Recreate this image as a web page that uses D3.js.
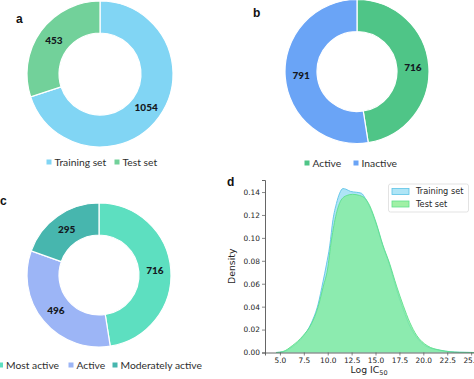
<!DOCTYPE html>
<html>
<head>
<meta charset="utf-8">
<script src="https://cdn.jsdelivr.net/npm/d3@7"></script>
<style>
  body { margin: 0; background: #fff; }
  svg { display: block; }
</style>
</head>
<body>
<div id="chart"></div>
<script>
// panel a
var setLabels = ["Training set", "Test set"];
var setCounts = [1054, 453];
// panel b
var activityLabels = ["Active", "Inactive"];
var activityCounts = [716, 791];
// panel c
var classLabels = ["Most active", "Active", "Moderately active"];
var classCounts = [716, 496, 295];
// panel d: KDE of Log IC50
var trainX = [4.6, 5.34, 6.39, 7.43, 8.3, 8.99, 9.51, 9.86, 10.21, 10.55, 10.91, 11.25, 11.59, 11.9, 12.4, 13.0, 13.51, 13.96, 14.38, 15.07, 15.76, 16.46, 17.16, 17.84, 18.54, 19.24, 20.28, 21.67, 23.75, 25.3];
var trainY = [0, 0.0006, 0.0055, 0.014, 0.026, 0.042, 0.062, 0.0765, 0.093, 0.116, 0.130, 0.139, 0.143, 0.1425, 0.1405, 0.1398, 0.139, 0.134, 0.127, 0.112, 0.093, 0.0765, 0.056, 0.039, 0.024, 0.014, 0.0055, 0.002, 0.0002, 0];
var testX = [4.6, 5.3, 6.3, 7.4, 8.3, 9.0, 9.55, 9.97, 10.39, 10.9, 11.4, 12.0, 12.6, 13.33, 13.96, 14.4, 15.07, 15.76, 16.46, 17.2, 17.9, 18.6, 19.3, 20.4, 21.8, 23.8, 25.3];
var testY = [0, 0.0008, 0.006, 0.0145, 0.025, 0.040, 0.058, 0.072, 0.098, 0.121, 0.133, 0.137, 0.138, 0.137, 0.134, 0.128, 0.113, 0.094, 0.078, 0.058, 0.041, 0.026, 0.015, 0.006, 0.002, 0.0002, 0];
var xTicks = [5.0, 7.5, 10.0, 12.5, 15.0, 17.5, 20.0, 22.5, 25.0];
var yTicks = [0, 0.02, 0.04, 0.06, 0.08, 0.10, 0.12, 0.14];
var kdeLabels = ["Training set", "Test set"];

function init() {
    var w = 474, h = 379;
    var svg = d3.select("#chart").append("svg")
        .attr("width", w)
        .attr("height", h);

    var donutFont = "Lato, 'Open Sans', sans-serif";

    function donut(cx, cy, rOut, rIn, labels, counts, colors, legendY, legendItems) {
        var pie = d3.pie().sort(null).value(function(d) { return d; });
        var arc = d3.arc().innerRadius(rIn).outerRadius(rOut);
        var mid = d3.arc().innerRadius((rIn + rOut) / 2).outerRadius((rIn + rOut) / 2);
        var g = svg.append("g").attr("transform", "translate(" + cx + "," + cy + ")");
        var arcs = pie(counts);
        g.selectAll("path")
            .data(arcs)
            .enter()
            .append("path")
            .attr("d", arc)
            .attr("fill", function(d, i) { return colors[i]; })
            .attr("stroke", "#fff")
            .attr("stroke-width", 1.2);
        g.selectAll("text")
            .data(arcs)
            .enter()
            .append("text")
            .attr("x", function(d) { return mid.centroid(d)[0]; })
            .attr("y", function(d) { return mid.centroid(d)[1]; })
            .attr("dy", "0.35em")
            .attr("text-anchor", "middle")
            .style("font-family", donutFont)
            .style("font-weight", "900")
            .style("font-size", "10px")
            .attr("fill", "#141821")
            .text(function(d) { return d.data; });

        // legend: square + text, x positions given per item
        var lg = svg.append("g");
        legendItems.forEach(function(x0, i) {
            lg.append("rect")
                .attr("x", x0)
                .attr("y", legendY - 2.5)
                .attr("width", 5)
                .attr("height", 5)
                .attr("fill", colors[i]);
            lg.append("text")
                .attr("x", x0 + 8)
                .attr("y", legendY)
                .attr("dy", "0.35em")
                .style("font-family", donutFont)
                .style("font-size", "10.3px")
                .attr("fill", "#2e2e2e")
                .text(labels[i]);
        });
    }

    donut(100, 74, 73, 41, setLabels, setCounts, ["#81d5f4", "#72d19a"], 162, [46.5, 114.5]);
    donut(357, 71.5, 72, 40, activityLabels, activityCounts, ["#4fc587", "#6aa4f6"], 163, [304.5, 353.5]);
    donut(99, 275, 72, 40, classLabels, classCounts, ["#5ddfc0", "#9cb5f6", "#47b6ae"], 365, [-2, 68.5, 112.5]);

    // panel d
    var x = d3.scaleLinear().domain([3.44, 25.3]).range([265, 474]);
    var y = d3.scaleLinear().domain([0, 0.1505]).range([352.5, 180]);

    var area = d3.area()
        .curve(d3.curveMonotoneX)
        .x(function(d) { return x(d[0]); })
        .y0(y(0))
        .y1(function(d) { return y(d[1]); });
    var line = d3.line()
        .curve(d3.curveMonotoneX)
        .x(function(d) { return x(d[0]); })
        .y(function(d) { return y(d[1]); });

    var train = d3.zip(trainX, trainY);
    var test = d3.zip(testX, testY);

    svg.append("path").datum(train)
        .attr("d", area).attr("fill", "rgb(120,210,240)").attr("fill-opacity", 0.6);
    svg.append("path").datum(train)
        .attr("d", line).attr("fill", "none").attr("stroke", "#5cc3e6").attr("stroke-width", 0.9);
    svg.append("path").datum(test)
        .attr("d", area).attr("fill", "rgb(125,238,145)").attr("fill-opacity", 0.7);
    svg.append("path").datum(test)
        .attr("d", line).attr("fill", "none").attr("stroke", "#5ee08c").attr("stroke-width", 0.9);

    var tickFont = "'DejaVu Sans', sans-serif";
    var xAxis = d3.axisBottom(x).tickValues(xTicks).tickSize(3).tickPadding(2)
        .tickFormat(d3.format(".1f"));
    var yAxis = d3.axisLeft(y).tickValues(yTicks).tickSize(3).tickPadding(2)
        .tickFormat(d3.format(".2f"));

    var gx = svg.append("g").attr("transform", "translate(0," + y(0) + ")").call(xAxis);
    var gy = svg.append("g").attr("transform", "translate(" + x.range()[0] + ",0)").call(yAxis);
    [gx, gy].forEach(function(g) {
        g.select(".domain").attr("stroke", "#555").attr("stroke-width", 0.9);
        g.selectAll(".tick line").attr("stroke", "#555").attr("stroke-width", 0.7);
        g.selectAll(".tick text")
            .style("font-family", tickFont)
            .style("font-size", "7.4px")
            .attr("fill", "#262626");
    });

    svg.append("text")
        .attr("transform", "translate(235," + ((y(0) + y.range()[1]) / 2) + ") rotate(-90)")
        .attr("text-anchor", "middle")
        .style("font-family", tickFont)
        .style("font-size", "9.3px")
        .attr("fill", "#262626")
        .text("Density");

    var xl = svg.append("text")
        .attr("x", 369)
        .attr("y", 373)
        .attr("text-anchor", "middle")
        .style("font-family", tickFont)
        .style("font-size", "9.3px")
        .attr("fill", "#262626");
    xl.append("tspan").text("Log IC");
    xl.append("tspan").attr("dy", 2).style("font-size", "6.5px").text("50");

    // legend box
    var lg = svg.append("g");
    lg.append("rect")
        .attr("x", 388.5).attr("y", 184)
        .attr("width", 80).attr("height", 28)
        .attr("rx", 2)
        .attr("fill", "#fff").attr("fill-opacity", 0.8)
        .attr("stroke", "#dcdcdc").attr("stroke-width", 0.8);
    var patchFill = ["rgb(175,229,246)", "rgb(160,240,165)"];
    var patchStroke = ["#5cc3e6", "#5ee08c"];
    kdeLabels.forEach(function(t, i) {
        var yy = 191.5 + i * 12.5;
        lg.append("rect")
            .attr("x", 392).attr("y", yy - 3)
            .attr("width", 17).attr("height", 6)
            .attr("fill", patchFill[i])
            .attr("stroke", patchStroke[i]).attr("stroke-width", 0.8);
        lg.append("text")
            .attr("x", 416).attr("y", yy)
            .attr("dy", "0.35em")
            .style("font-family", tickFont)
            .style("font-size", "8.2px")
            .attr("fill", "#262626")
            .text(t);
    });

    // panel letters
    var letters = [["a", 16, 23], ["b", 253, 17], ["c", 0, 205], ["d", 227, 186]];
    letters.forEach(function(l) {
        svg.append("text")
            .attr("x", l[1]).attr("y", l[2])
            .style("font-family", "'Liberation Sans', Arial, sans-serif")
            .style("font-weight", "bold")
            .style("font-size", "12px")
            .attr("fill", "#111")
            .text(l[0]);
    });
}

window.onload = init;
</script>
</body>
</html>
